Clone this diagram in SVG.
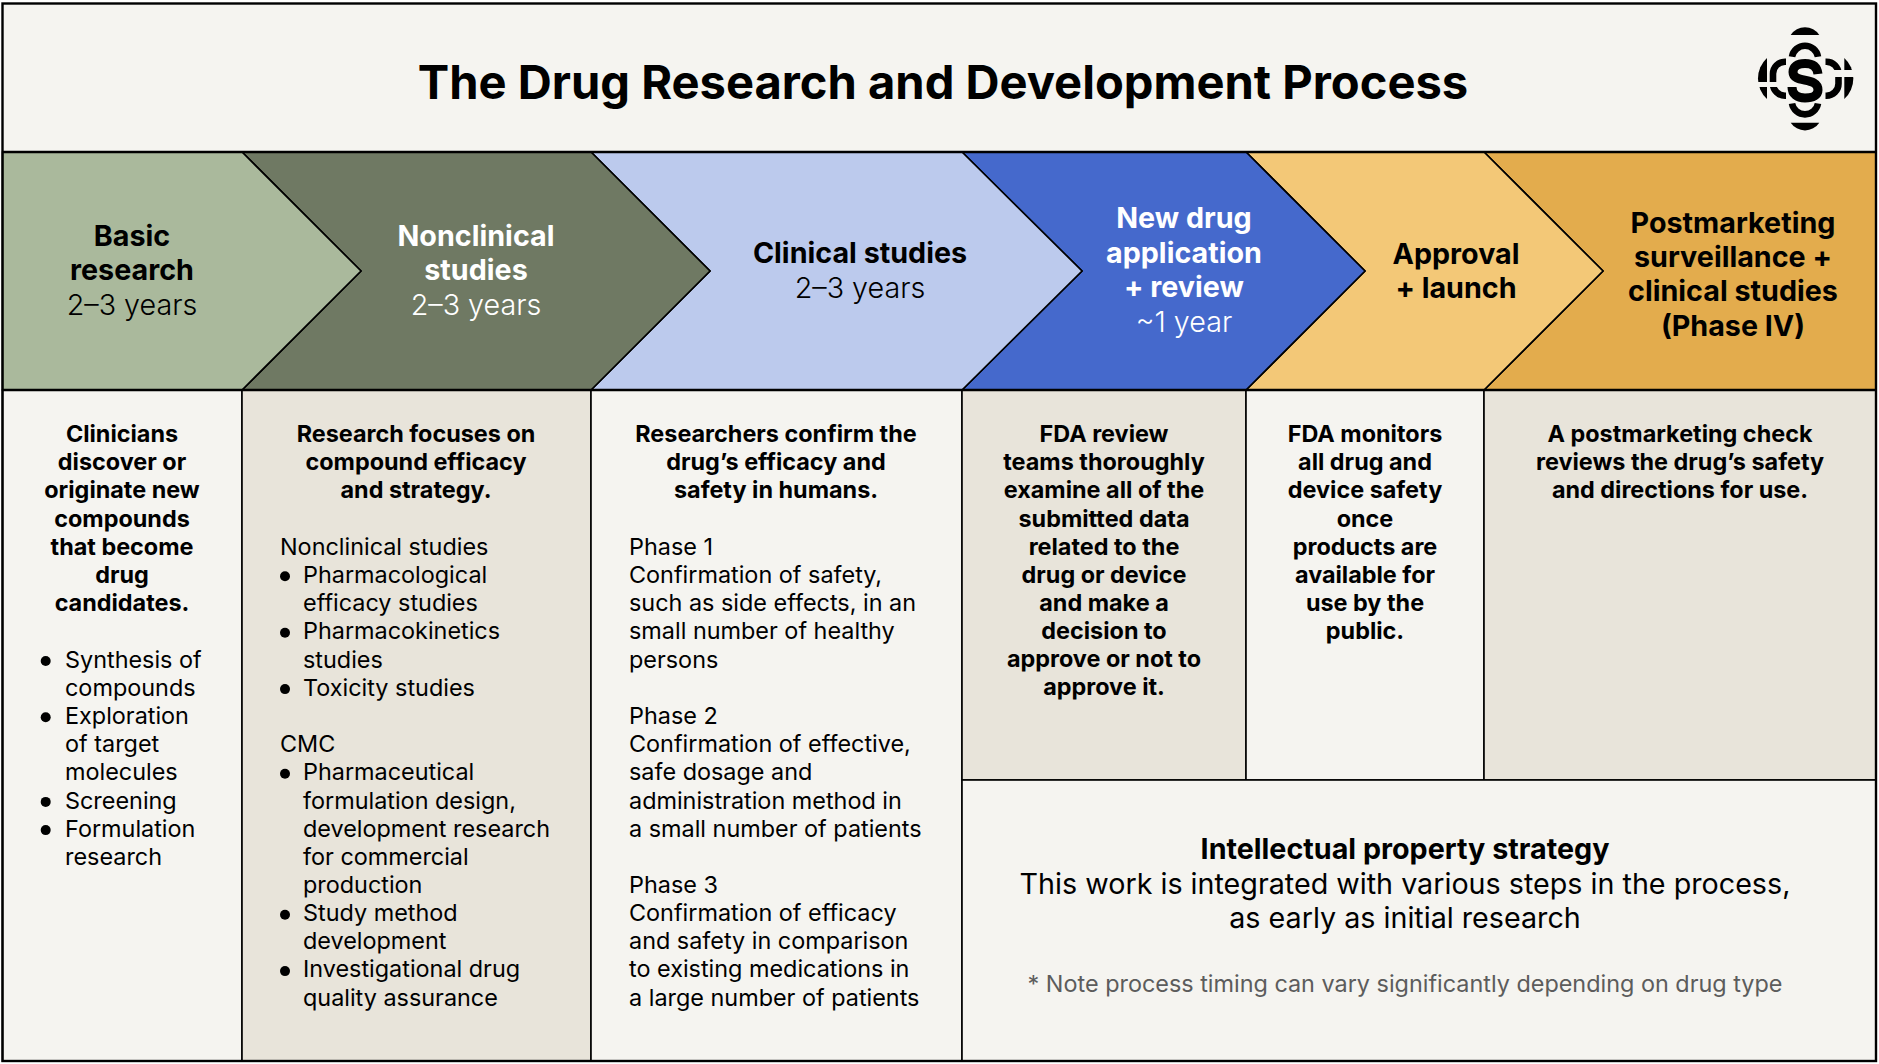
<svg xmlns="http://www.w3.org/2000/svg" width="1879" height="1064" viewBox="0 0 1879 1064">
<style>
text{font-family:"Inter","Liberation Sans",sans-serif;fill:#000;font-optical-sizing:none}
.m{text-anchor:middle}
.t{font-size:47.1px;font-weight:700}
.h{font-size:28.7px;font-weight:700}
.y{font-size:28.7px;font-weight:300}
.i{font-size:28.7px;font-weight:400}
.b{font-size:23.4px;font-weight:700}
.r{font-size:23.4px;font-weight:400}
.w{fill:#fff}
.n{font-size:23.4px;fill:#5c5c5c}
.c{stroke:#000;stroke-width:1.6}
.bx{stroke:#000;stroke-width:1.6}
.lg{fill:none;stroke:#000;stroke-width:6.600}
.sg{fill:none;stroke:#000;stroke-width:9}
</style>
<clipPath id="cl"><rect x="1750" y="50" width="36" height="32"/><rect x="1750" y="87" width="36" height="30"/></clipPath>
<clipPath id="cr"><rect x="1825.500" y="50" width="38" height="20"/><rect x="1825.500" y="77" width="38" height="40"/></clipPath>
<rect x="0" y="0" width="1879" height="1064" fill="#fff"/>
<rect x="2.5" y="3.5" width="1873.5" height="1057.5" fill="#f5f4f0"/>
<g id="title"><text class="t m" x="943" y="98.500">The Drug Research and Development Process</text></g>
<g id="logo">
<path d="M1790.7 35A17.1 17.1 0 0 1 1819.3 35Z"/>
<path d="M1790.7 122.7A17.1 17.1 0 0 0 1819.3 122.7Z"/>
<path class="lg" d="M1792 56.700A13.200 13.200 0 0 1 1818 56.700"/>
<path class="lg" d="M1792 103.500A13.200 13.200 0 0 0 1818 103.500"/>
<g clip-path="url(#cl)"><path d="M1767 58A27.800 27.800 0 0 0 1767 99Z"/><path class="lg" d="M1788 61.700H1785A12 12 0 0 0 1773 73.700V83.700A12 12 0 0 0 1785 95.700H1788"/></g>
<g clip-path="url(#cr)"><path d="M1844.300 58A27.800 27.800 0 0 1 1844.300 99Z"/><path class="lg" d="M1825 61.700H1826.500A12 12 0 0 1 1838.500 73.700V83.700A12 12 0 0 1 1826.500 95.700H1825"/></g>
<path class="sg" d="M1818 74C1817 66 1812 63.500 1805 63.500C1797 63.500 1793 67 1793 72C1793 84 1818 76 1818 90C1818 95 1813 98 1805 98C1797 98 1792 94 1792 87"/>
</g>
<g id="step-postmarketing"><path class="c" fill="#e3ac4d" d="M1484 152H1876V390H1484L1603 271Z"/>
<text class="h m" x="1733" y="232.500">Postmarketing</text><text class="h m" x="1733" y="267">surveillance +</text><text class="h m" x="1733" y="301">clinical studies</text><text class="h m" x="1733" y="336">(Phase IV)</text></g>
<g id="step-approval"><path class="c" fill="#f3c877" d="M1246 152H1484L1603 271L1484 390H1246L1365 271Z"/>
<text class="h m" x="1456" y="263.500">Approval</text><text class="h m" x="1456" y="298">+ launch</text></g>
<g id="step-nda"><path class="c" fill="#4569cc" d="M962 152H1246L1365 271L1246 390H962L1082 271Z"/>
<text class="h m w" x="1184" y="228">New drug</text><text class="h m w" x="1184" y="263">application</text><text class="h m w" x="1184" y="297">+ review</text><text class="y m w" x="1184" y="332">~1 year</text></g>
<g id="step-clinical"><path class="c" fill="#bccaed" d="M591 152H962L1082 271L962 390H591L710 271Z"/>
<text class="h m" x="860" y="263">Clinical studies</text><text class="y m" x="860" y="297.500">2–3 years</text></g>
<g id="step-nonclinical"><path class="c" fill="#6f7963" d="M242 152H591L710 271L591 390H242L361 271Z"/>
<text class="h m w" x="476" y="246">Nonclinical</text><text class="h m w" x="476" y="280">studies</text><text class="y m w" x="476" y="315">2–3 years</text></g>
<g id="step-basic"><path class="c" fill="#aab99c" d="M2.500 152H242L361 271L242 390H2.500Z"/>
<text class="h m" x="132" y="246">Basic</text><text class="h m" x="132" y="280">research</text><text class="y m" x="132" y="315">2–3 years</text></g>
<g id="col-basic"><rect class="bx" x="2.500" y="390" width="239.500" height="671" fill="#f5f4f0"/>
<text class="b m" x="122" y="441.600">Clinicians</text><text class="b m" x="122" y="469.800">discover or</text><text class="b m" x="122" y="498">originate new</text><text class="b m" x="122" y="527">compounds</text><text class="b m" x="122" y="555">that become</text><text class="b m" x="122" y="583">drug</text><text class="b m" x="122" y="611">candidates.</text>
<circle cx="45.700" cy="661" r="5"/><text class="r" x="65" y="668">Synthesis of</text><text class="r" x="65" y="696">compounds</text>
<circle cx="45.700" cy="717.300" r="5"/><text class="r" x="65" y="724">Exploration</text><text class="r" x="65" y="752">of target</text><text class="r" x="65" y="780">molecules</text>
<circle cx="45.700" cy="801.900" r="5"/><text class="r" x="65" y="808.500">Screening</text>
<circle cx="45.700" cy="830.100" r="5"/><text class="r" x="65" y="837">Formulation</text><text class="r" x="65" y="864.600">research</text></g>
<g id="col-nonclinical"><rect class="bx" x="242" y="390" width="349" height="671" fill="#e8e4da"/>
<text class="b m" x="416" y="441.600">Research focuses on</text><text class="b m" x="416" y="469.800">compound efficacy</text><text class="b m" x="416" y="498">and strategy.</text>
<text class="r" x="280" y="555">Nonclinical studies</text>
<circle cx="285" cy="576.300" r="5"/><text class="r" x="303" y="583">Pharmacological</text><text class="r" x="303" y="611">efficacy studies</text>
<circle cx="285" cy="632.700" r="5"/><text class="r" x="303" y="639">Pharmacokinetics</text><text class="r" x="303" y="667.500">studies</text>
<circle cx="285" cy="689.100" r="5"/><text class="r" x="303" y="696">Toxicity studies</text>
<text class="r" x="280" y="752">CMC</text>
<circle cx="285" cy="773.700" r="5"/><text class="r" x="303" y="780">Pharmaceutical</text><text class="r" x="303" y="808.500">formulation design,</text><text class="r" x="303" y="837">development research</text><text class="r" x="303" y="864.600">for commercial</text><text class="r" x="303" y="892.800">production</text>
<circle cx="285" cy="914.700" r="5"/><text class="r" x="303" y="921">Study method</text><text class="r" x="303" y="949.200">development</text>
<circle cx="285" cy="971.100" r="5"/><text class="r" x="303" y="977.400">Investigational drug</text><text class="r" x="303" y="1005.600">quality assurance</text></g>
<g id="col-clinical"><rect class="bx" x="591" y="390" width="371" height="671" fill="#f5f4f0"/>
<text class="b m" x="776" y="441.600">Researchers confirm the</text><text class="b m" x="776" y="469.800">drug’s efficacy and</text><text class="b m" x="776" y="498">safety in humans.</text>
<text class="r" x="629" y="555">Phase 1</text><text class="r" x="629" y="583">Confirmation of safety,</text><text class="r" x="629" y="611">such as side effects, in an</text><text class="r" x="629" y="639">small number of healthy</text><text class="r" x="629" y="668">persons</text>
<text class="r" x="629" y="724">Phase 2</text><text class="r" x="629" y="752">Confirmation of effective,</text><text class="r" x="629" y="780">safe dosage and</text><text class="r" x="629" y="808.500">administration method in</text><text class="r" x="629" y="837">a small number of patients</text>
<text class="r" x="629" y="892.800">Phase 3</text><text class="r" x="629" y="921">Confirmation of efficacy</text><text class="r" x="629" y="949.200">and safety in comparison</text><text class="r" x="629" y="977.400">to existing medications in</text><text class="r" x="629" y="1005.600">a large number of patients</text></g>
<g id="col-nda"><rect class="bx" x="962" y="390" width="284" height="390" fill="#e8e4da"/>
<text class="b m" x="1104" y="441.600">FDA review</text><text class="b m" x="1104" y="469.800">teams thoroughly</text><text class="b m" x="1104" y="498">examine all of the</text><text class="b m" x="1104" y="527">submitted data</text><text class="b m" x="1104" y="555">related to the</text><text class="b m" x="1104" y="583">drug or device</text><text class="b m" x="1104" y="611">and make a</text><text class="b m" x="1104" y="639">decision to</text><text class="b m" x="1104" y="667">approve or not to</text><text class="b m" x="1104" y="695">approve it.</text></g>
<g id="col-approval"><rect class="bx" x="1246" y="390" width="238" height="390" fill="#f5f4f0"/>
<text class="b m" x="1365" y="441.600">FDA monitors</text><text class="b m" x="1365" y="469.800">all drug and</text><text class="b m" x="1365" y="498">device safety</text><text class="b m" x="1365" y="527">once</text><text class="b m" x="1365" y="555">products are</text><text class="b m" x="1365" y="583">available for</text><text class="b m" x="1365" y="611">use by the</text><text class="b m" x="1365" y="639">public.</text></g>
<g id="col-postmarketing"><rect class="bx" x="1484" y="390" width="392" height="390" fill="#e8e4da"/>
<text class="b m" x="1680" y="441.600">A postmarketing check</text><text class="b m" x="1680" y="469.800">reviews the drug’s safety</text><text class="b m" x="1680" y="498">and directions for use.</text></g>
<g id="ip-strategy"><rect class="bx" x="962" y="780" width="914" height="281" fill="#f5f4f0"/>
<text class="h m" x="1405" y="859">Intellectual property strategy</text><text class="i m" x="1405" y="894">This work is integrated with various steps in the process,</text><text class="i m" x="1405" y="928">as early as initial research</text>
<text class="n m" x="1405" y="992">* Note process timing can vary significantly depending on drug type</text></g>
<rect x="2.500" y="3.500" width="1873.500" height="1057.500" fill="none" stroke="#000" stroke-width="2.400"/>
<path d="M2.500 152H1876M2.500 390H1876" stroke="#000" stroke-width="2.400" fill="none"/>
</svg>
